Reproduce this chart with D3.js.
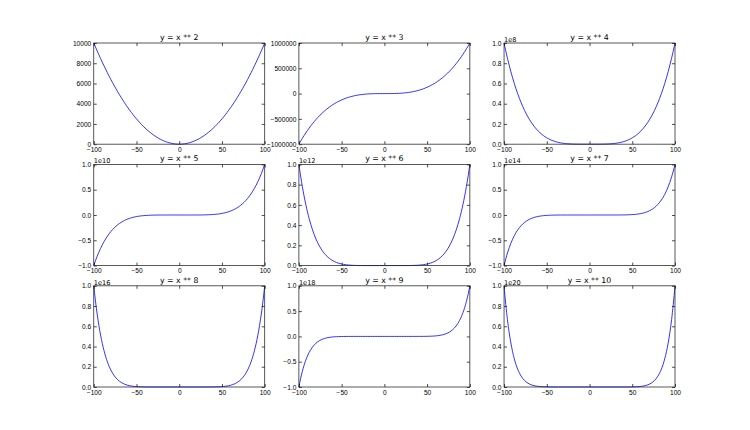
<!DOCTYPE html>
<html>
<head>
<meta charset="utf-8">
<script src="https://cdn.jsdelivr.net/npm/d3@7"></script>
<style>
  body { margin: 0; background: #fff; }
  svg { display: block; font-family: "DejaVu Sans", sans-serif; }
  .tick text { fill: #000; }
</style>
</head>
<body>
<svg id="chart" width="750" height="430"></svg>
<script>
// exponents from the panel titles, y = x ** n
const exponents = [2, 3, 4, 5, 6, 7, 8, 9, 10];
const xValues = d3.range(-100, 100.01, 2);
const xTicks = [-100, -50, 0, 50, 100];
// scale factor shown as offset text (0 = no offset)
const offsetPowers = [0, 0, 8, 10, 12, 14, 16, 18, 20];
const yTicksEven = [0, 0.2, 0.4, 0.6, 0.8, 1.0];
const yTicksOdd = [-1.0, -0.5, 0.0, 0.5, 1.0];
const yTicksSquare = [0, 2000, 4000, 6000, 8000, 10000];
const yTicksCube = [-1000000, -500000, 0, 500000, 1000000];

const svg = d3.select("#chart");
const W = 750, H = 430;
const figLeft = 0.125 * W, figRight = 0.9 * W, figTop = 0.1 * H, figBottom = 0.9 * H;
const cols = 3, rows = 3, wspace = 0.2, hspace = 0.2;
const cellW = (figRight - figLeft) / (cols + (cols - 1) * wspace);
const cellH = (figBottom - figTop) / (rows + (rows - 1) * hspace);
const tickLen = 3;
const tickFont = "6.6px";
const minus = s => String(s).replace("-", "\u2212");

exponents.forEach((n, i) => {
    const col = i % cols, row = Math.floor(i / cols);
    const x0 = figLeft + col * cellW * (1 + wspace);
    const y0 = figTop + row * cellH * (1 + hspace);
    const g = svg.append("g").attr("transform", `translate(${x0},${y0})`);

    const pow = offsetPowers[i];
    const scaleBy = Math.pow(10, pow);
    const odd = n % 2 === 1;
    let yTicks, fmt;
    if (pow === 0) {
        yTicks = odd ? yTicksCube : yTicksSquare;
        fmt = d => minus(d);
    } else {
        yTicks = odd ? yTicksOdd : yTicksEven;
        fmt = d => minus(d3.format(".1f")(d));
    }
    const domain = [yTicks[0], yTicks[yTicks.length - 1]];

    const x = d3.scaleLinear().domain([-100, 100]).range([0, cellW]);
    const y = d3.scaleLinear().domain(domain).range([cellH, 0]);

    const pts = xValues.map(v => [v, Math.pow(v, n) / scaleBy]);
    const line = d3.line().x(d => x(d[0])).y(d => y(d[1])).curve(d3.curveMonotoneX);

    g.append("path")
        .datum(pts)
        .attr("fill", "none")
        .attr("stroke", "#0000ff")
        .attr("stroke-width", 0.8)
        .attr("d", line);

    const styleAxis = a => {
        a.select(".domain").remove();
        a.selectAll(".tick line").attr("stroke", "#000").attr("stroke-width", 0.7);
        a.selectAll(".tick text").style("font-size", tickFont);
    };

    g.append("g").attr("transform", `translate(0,${cellH})`)
        .call(d3.axisBottom(x).tickValues(xTicks).tickSize(-tickLen).tickSizeOuter(0)
            .tickPadding(3).tickFormat(d => minus(d)))
        .call(styleAxis);
    g.append("g")
        .call(d3.axisTop(x).tickValues(xTicks).tickSize(-tickLen).tickSizeOuter(0).tickFormat(""))
        .call(styleAxis);
    g.append("g")
        .call(d3.axisLeft(y).tickValues(yTicks).tickSize(-tickLen).tickSizeOuter(0)
            .tickPadding(2.5).tickFormat(fmt))
        .call(styleAxis);
    g.append("g").attr("transform", `translate(${cellW},0)`)
        .call(d3.axisRight(y).tickValues(yTicks).tickSize(-tickLen).tickSizeOuter(0).tickFormat(""))
        .call(styleAxis);

    g.append("rect")
        .attr("width", cellW).attr("height", cellH)
        .attr("fill", "none").attr("stroke", "#222").attr("stroke-width", 0.75);

    g.append("text")
        .attr("x", cellW / 2).attr("y", -3)
        .attr("text-anchor", "middle")
        .style("font-size", "7.8px")
        .text(`y = x ** ${n}`);

    if (pow !== 0) {
        g.append("text")
            .attr("x", 0).attr("y", -1)
            .style("font-size", tickFont)
            .text(`1e${pow}`);
    }
});
</script>
</body>
</html>
